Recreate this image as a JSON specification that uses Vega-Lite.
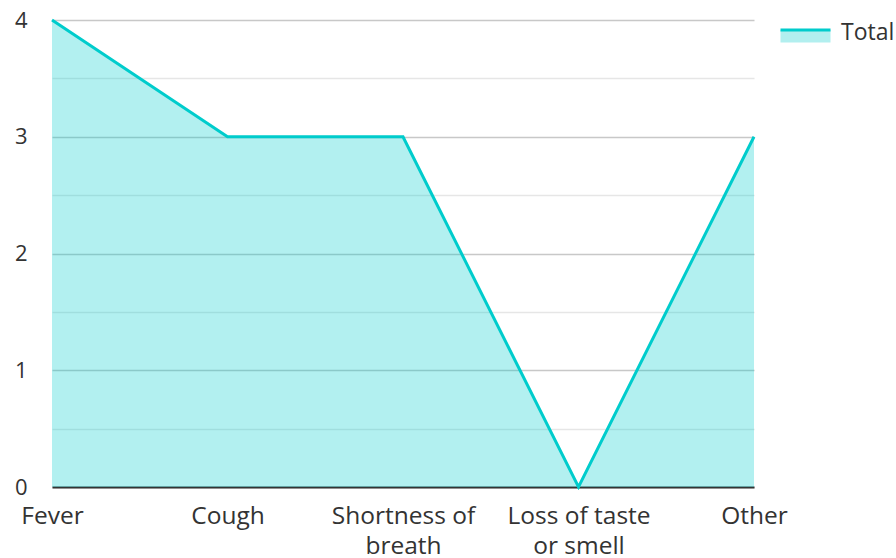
{
  "$schema": "https://vega.github.io/schema/vega-lite/v6.json",
  "width": 702,
  "height": 467,
  "autosize": {"type": "none"},
  "padding": {"left": 52, "top": 20, "right": 142, "bottom": 71},
  "background": "white",
  "config": {
    "view": {"stroke": null},
    "font": "Open Sans",
    "axis": {"labelFont": "Open Sans", "labelFontSize": 22, "labelColor": "#333333", "title": null},
    "legend": {"labelFont": "Open Sans", "labelFontSize": 23, "labelColor": "#333333"}
  },
  "data": {
    "values": [
      {"symptom": "Fever", "count": 4},
      {"symptom": "Cough", "count": 3},
      {"symptom": "Shortness of breath", "count": 3},
      {"symptom": "Loss of taste or smell", "count": 0},
      {"symptom": "Other", "count": 3}
    ]
  },
  "encoding": {
    "x": {
      "field": "symptom",
      "type": "nominal",
      "sort": null,
      "scale": {"type": "point", "padding": 0},
      "axis": {
        "labelAngle": 0,
        "ticks": false,
        "domainColor": "#333333",
        "domainWidth": 2,
        "labelFontSize": 24.5,
        "labelPadding": 17,
        "labelLineHeight": 30,
        "labelBaseline": "top",
        "labelExpr": "datum.value == 'Shortness of breath' ? ['Shortness of', 'breath'] : datum.value == 'Loss of taste or smell' ? ['Loss of taste', 'or smell'] : datum.label"
      }
    },
    "y": {
      "field": "count",
      "type": "quantitative",
      "scale": {"domain": [0, 4], "nice": false},
      "axis": {
        "values": [0, 0.5, 1, 1.5, 2, 2.5, 3, 3.5, 4],
        "domain": false,
        "ticks": false,
        "labelPadding": 25,
        "labelExpr": "datum.value % 1 === 0 ? format(datum.value, 'd') : ''",
        "gridColor": {"condition": {"test": "datum.value % 1 === 0", "value": "#c8c8c8"}, "value": "#e6e6e6"},
        "gridWidth": 1.5
      }
    }
  },
  "layer": [
    {
      "mark": {"type": "area", "color": "#00cccc", "opacity": 0.3}
    },
    {
      "mark": {"type": "line", "strokeWidth": 3},
      "encoding": {
        "stroke": {
          "datum": "Total",
          "scale": {"range": ["#00cccc"]},
          "legend": {
            "title": null,
            "orient": "none",
            "legendX": 727,
            "legendY": -14,
            "padding": 0,
            "symbolType": "M-1,-0.1H1V0.4H-1Z",
            "symbolSize": 2500,
            "symbolStrokeWidth": 3,
            "labelOffset": 9,
            "encode": {
              "symbols": {
                "update": {
                  "fill": {"value": "#b2efef"},
                  "stroke": {"value": "#00cccc"},
                  "strokeDash": {"value": [50, 1000]},
                  "opacity": {"value": 1},
                  "fillOpacity": {"value": 1}
                }
              }
            }
          }
        }
      }
    }
  ]
}
